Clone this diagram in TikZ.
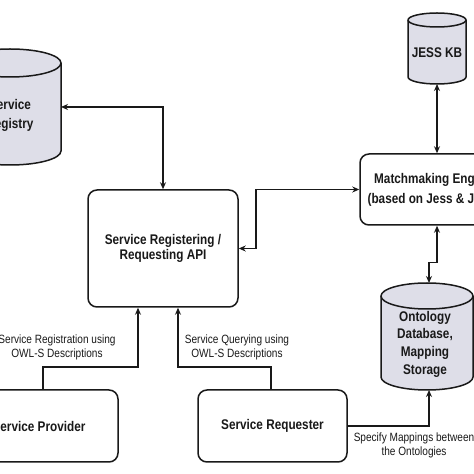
\documentclass[tikz,border=0pt]{standalone}
\usepackage{fontspec}
\setmainfont{Liberation Sans}[FakeStretch=0.84]
\usetikzlibrary{arrows.meta}
\definecolor{dbgray}{RGB}{222,222,232}
\definecolor{ink}{RGB}{25,25,25}

\begin{document}
\begin{tikzpicture}[x=1pt, y=1pt, line width=1.5pt, color=ink,
    box/.style={draw, rounded corners=9pt, fill=white, align=center, inner sep=0pt,
      font=\bfseries\fontsize{14}{15.5}\selectfont},
    dbtext/.style={align=center, font=\bfseries\fontsize{14}{19}\selectfont},
    db/.style={draw, fill=dbgray},
    note/.style={align=center, font=\fontsize{12}{14}\selectfont},
    link/.style={-{Stealth[length=7pt,width=6pt]}},
    both/.style={{Stealth[length=7pt,width=6pt]}-{Stealth[length=7pt,width=6pt]}}]
  \useasboundingbox (0,0) rectangle (474,474);
  \clip (0,0) rectangle (474,474);

  % databases
  \draw[db] (-41,411) -- (-41,323) arc[start angle=180, end angle=360, x radius=51pt, y radius=14pt]
    -- (61,411) arc[start angle=0, end angle=180, x radius=51pt, y radius=14pt] -- cycle;
  \draw (-41,411) arc[start angle=180, end angle=360, x radius=51pt, y radius=14pt];
  \draw[db] (408,454) -- (408,397) arc[start angle=180, end angle=360, x radius=29pt, y radius=7pt]
    -- (466,454) arc[start angle=0, end angle=180, x radius=29pt, y radius=7pt] -- cycle;
  \draw (408,454) arc[start angle=180, end angle=360, x radius=29pt, y radius=7pt];
  \draw[db] (381,178) -- (381,97) arc[start angle=180, end angle=360, x radius=46pt, y radius=13pt]
    -- (473,178) arc[start angle=0, end angle=180, x radius=46pt, y radius=13pt] -- cycle;
  \draw (381,178) arc[start angle=180, end angle=360, x radius=46pt, y radius=13pt];

  \node[dbtext] (reg) at (10,359) {Service\\Registry};
  \node[dbtext] (jess) at (437,421) {JESS KB};
  \node[dbtext, font=\bfseries\fontsize{14}{17.7}\selectfont] (onto) at (425,130)
    {Ontology\\Database,\\Mapping\\Storage};

  \coordinate (regE) at (61,367);
  \coordinate (jessB) at (437,390);
  \coordinate (ontoT) at (429,191);
  \coordinate (ontoB) at (429,84);

  % boxes
  \node[box, minimum width=150pt, minimum height=117pt] (api) at (163,225.5)
    {Service Registering /\\Requesting API};
  \node[box, minimum width=146pt, minimum height=71pt, font=\bfseries\fontsize{14}{20}\selectfont]
    (match) at (433,284.5) {Matchmaking Engine\\(based on Jess \& Jena)};
  \node[box, minimum width=158pt, minimum height=72pt] (prov) at (39,48) {Service Provider};
  \node[box, minimum width=149pt, minimum height=72pt] (req) at (272.5,48) {Service Requester};

  % connectors
  \draw[both] (regE) -| (api.north);
  \draw[both] (api.east) -- ++(17,0) |- (match.west);
  \draw[both] (jessB) -- (jessB |- match.north);
  \draw[both] (match.south -| jessB) -- ++(0,-37) -| (ontoT);
  \draw[link] ([xshift=4pt]prov.north) -- ++(0,22) -| ([xshift=-25pt]api.south);
  \draw[link] ([xshift=-1.5pt]req.north) -- ++(0,22) -| ([xshift=15pt]api.south);
  \draw[link] (req.east) -| (ontoB);

  \node[note] (regnote) at (57,127) {Service Registration using\\OWL-S Descriptions};
  \node[note] (querynote) at (237,127) {Service Querying using\\OWL-S Descriptions};
  \node[note] (mapnote) at (414,29) {Specify Mappings between\\the Ontologies};
\end{tikzpicture}
\end{document}
